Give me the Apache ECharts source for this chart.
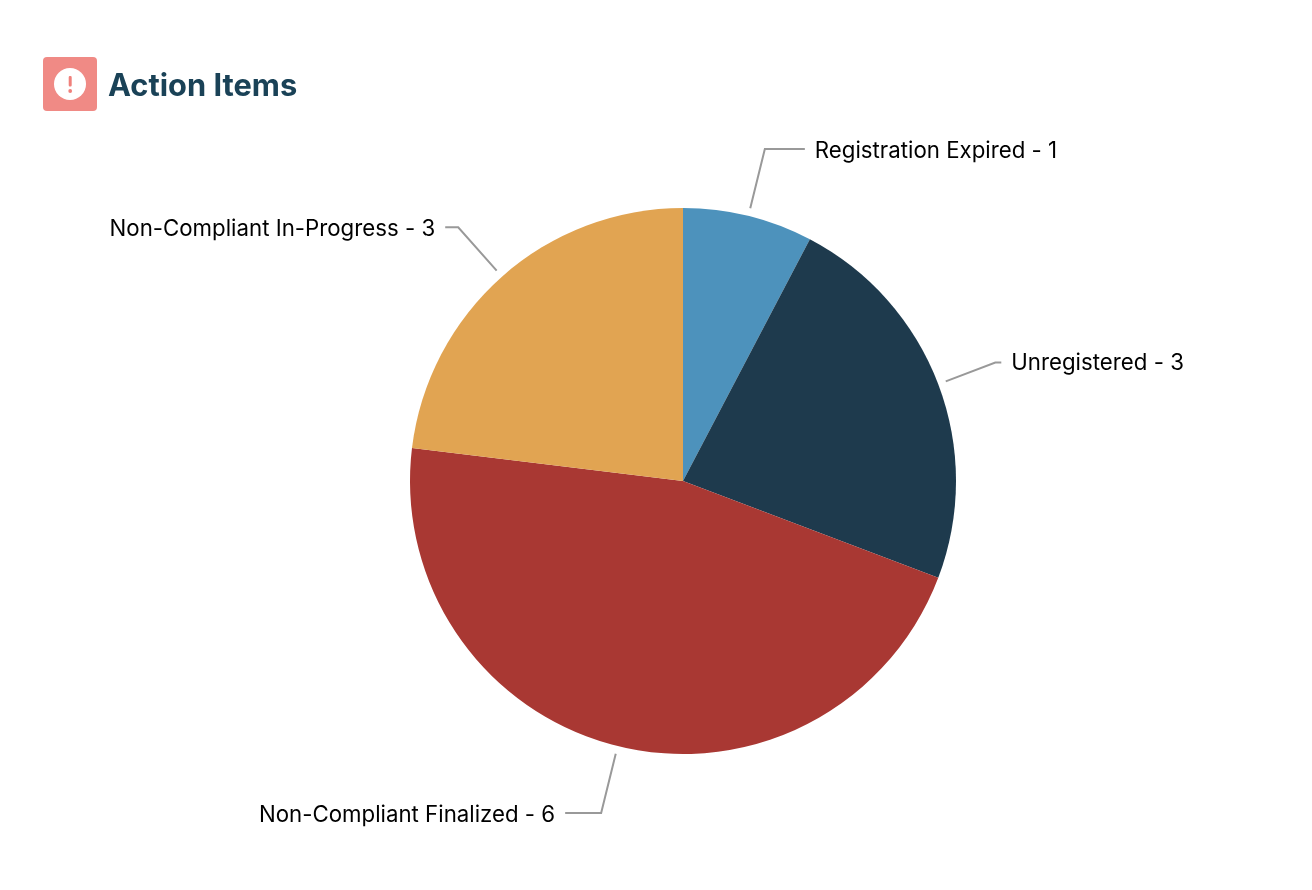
<!DOCTYPE html>
<html><head><meta charset="utf-8">
<style>html,body{margin:0;padding:0;background:#fff}#c{width:1312px;height:890px}</style>
<script src="https://cdn.jsdelivr.net/npm/echarts@6/dist/echarts.min.js"></script>
</head><body><div id="c"></div>
<script>
const categories = ["Registration Expired","Unregistered","Non-Compliant Finalized","Non-Compliant In-Progress"];
const values = [1,3,6,3];
const colors = ["#4d92bc","#1e3a4d","#a93833","#e1a452"];
const lineLength = [61,53,61,58];
const lineLength2 = [40,6,36,13];
const labelDrop = [2,1,2,2];
const chart = echarts.init(document.getElementById('c'),null,{renderer:'canvas'});
chart.setOption({
  animation:false,
  graphic:[
    {type:'rect',shape:{x:43,y:57,width:54,height:54,r:4},style:{fill:'#f08a85'}},
    {type:'circle',shape:{cx:70,cy:84,r:16},style:{fill:'#fff'}},
    {type:'rect',shape:{x:68.7,y:76,width:3,height:10.5,r:1.2},style:{fill:'#f0807b'}},
    {type:'circle',shape:{cx:70.2,cy:91,r:1.9},style:{fill:'#f0807b'}},
    {type:'text',style:{x:108,y:87,text:'Action Items',fill:'#1a4257',font:'bold 30.8px Inter',textVerticalAlign:'middle'}}
  ],
  series:[{
    type:'pie',
    center:[683,481],
    radius:[0,273],
    startAngle:90,
    clockwise:true,
    silent:true,
    label:{show:false},
    labelLine:{show:false},
    data:categories.map((n,i)=>({name:n,value:values[i],itemStyle:{color:colors[i]}}))
  },{
    type:'pie',
    center:[683,481],
    radius:[0,281],
    startAngle:90,
    clockwise:true,
    silent:true,
    itemStyle:{color:'rgba(0,0,0,0)'},
    label:{formatter:'{b} - {c}',fontFamily:'Inter',fontSize:22.25,color:'#000',distanceToLabelLine:10},
    labelLayout:function(p){return {dy:labelDrop[p.dataIndex]};},
    data:categories.map((n,i)=>({name:n,value:values[i],
      labelLine:{length:lineLength[i],length2:lineLength2[i],smooth:false,lineStyle:{color:'#999',width:2}}}))
  }]
});
</script></body></html>
